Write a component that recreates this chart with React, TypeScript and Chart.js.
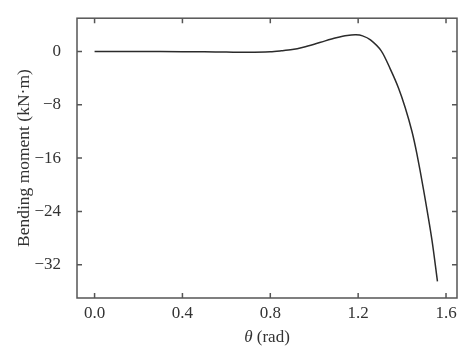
import React, { useEffect, useRef } from "react";
import { Chart, registerables } from "chart.js";

Chart.register(...registerables);

const thetaValues = [0, 0.2, 0.4, 0.5, 0.6, 0.7, 0.8, 0.85, 0.9, 0.95, 1.0, 1.05, 1.1, 1.15, 1.19, 1.22, 1.256, 1.305, 1.346, 1.384, 1.414, 1.445, 1.467, 1.498, 1.536, 1.561];
const momentValues = [0, 0, -0.02, -0.04, -0.08, -0.12, -0.05, 0.1, 0.3, 0.65, 1.1, 1.6, 2.05, 2.4, 2.5, 2.35, 1.74, 0.1, -2.6, -5.5, -8.4, -12.0, -15.3, -20.8, -28.3, -34.5];
const xTicks = [0, 0.4, 0.8, 1.2, 1.6];
const yTicks = [0, -8, -16, -24, -32];
const xTitleItalic = "θ";
const xTitleRest = " (rad)";
const yTitle = "Bending moment (kN·m)";

const FONT = "'Liberation Serif', 'DejaVu Serif', serif";
const TEXT = "#333333";
const FRAME = "#555555";

const framePlugin = {
  id: "frameTicks",
  afterDraw(chart: any) {
    const { ctx, chartArea } = chart;
    const { left, right, top, bottom } = chartArea;
    const xs = chart.scales.x;
    const ys = chart.scales.y;
    const len = 5;
    ctx.save();
    ctx.strokeStyle = FRAME;
    ctx.lineWidth = 1.5;
    ctx.strokeRect(left, top, right - left, bottom - top);
    ctx.beginPath();
    xTicks.forEach((v) => {
      const px = xs.getPixelForValue(v);
      ctx.moveTo(px, bottom);
      ctx.lineTo(px, bottom - len);
      ctx.moveTo(px, top);
      ctx.lineTo(px, top + len);
    });
    yTicks.forEach((v) => {
      const py = ys.getPixelForValue(v);
      ctx.moveTo(left, py);
      ctx.lineTo(left + len, py);
      ctx.moveTo(right, py);
      ctx.lineTo(right - len, py);
    });
    ctx.stroke();

    // x-axis title with italic theta
    const cx = (left + right) / 2;
    const ty = 338;
    ctx.fillStyle = TEXT;
    ctx.textBaseline = "middle";
    ctx.font = `italic 17px ${FONT}`;
    const w1 = ctx.measureText(xTitleItalic).width;
    ctx.font = `17px ${FONT}`;
    const w2 = ctx.measureText(xTitleRest).width;
    const start = cx - (w1 + w2) / 2;
    ctx.textAlign = "left";
    ctx.font = `italic 17px ${FONT}`;
    ctx.fillText(xTitleItalic, start, ty);
    ctx.font = `17px ${FONT}`;
    ctx.fillText(xTitleRest, start + w1, ty);
    ctx.restore();
  },
};

const fmt = (v: number, digits: number) => {
  const s = Math.abs(v).toFixed(digits);
  return v < 0 ? "\u2212" + s : s;
};

export default function App() {
  const ref = useRef<HTMLCanvasElement>(null);
  useEffect(() => {
    document.body.style.margin = "0";
    const canvas = ref.current;
    if (!canvas) return;
    const chart = new Chart(canvas, {
      type: "line",
      data: {
        datasets: [
          {
            data: thetaValues.map((t, i) => ({ x: t, y: momentValues[i] })),
            borderColor: "#2b2b2b",
            borderWidth: 1.5,
            pointRadius: 0,
            fill: false,
            tension: 0.3,
          },
        ],
      },
      options: {
        responsive: false,
        animation: false,
        layout: { padding: { left: 0, right: 17, top: 16, bottom: 0 } },
        plugins: { legend: { display: false }, tooltip: { enabled: false } },
        scales: {
          x: {
            type: "linear",
            min: -0.08,
            max: 1.65,
            afterBuildTicks: (s: any) => {
              s.ticks = xTicks.map((v) => ({ value: v }));
            },
            afterFit: (s: any) => {
              s.height = 66;
            },
            grid: { display: false },
            border: { display: false },
            ticks: {
              color: TEXT,
              font: { family: FONT, size: 17 },
              padding: -3,
              maxRotation: 0,
              callback: (v: any) => fmt(Number(v), 1),
            },
          },
          y: {
            type: "linear",
            min: -37,
            max: 5,
            afterBuildTicks: (s: any) => {
              s.ticks = yTicks.map((v) => ({ value: v }));
            },
            afterFit: (s: any) => {
              s.width = 77;
            },
            grid: { display: false },
            border: { display: false },
            title: {
              display: true,
              text: yTitle,
              color: TEXT,
              font: { family: FONT, size: 17.5 },
              padding: { top: 14, bottom: 0 },
            },
            ticks: {
              color: TEXT,
              font: { family: FONT, size: 17 },
              padding: 8,
              callback: (v: any) => fmt(Number(v), 0),
            },
          },
        },
      },
      plugins: [framePlugin],
    } as any);
    return () => chart.destroy();
  }, []);
  return <canvas ref={ref} width={474} height={364} style={{ display: "block" }} />;
}
